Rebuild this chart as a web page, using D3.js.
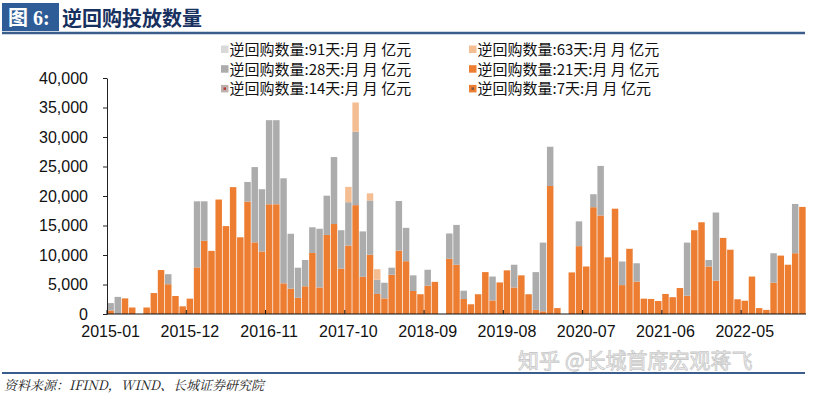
<!DOCTYPE html>
<html>
<head>
<meta charset="utf-8">
<script src="https://cdn.jsdelivr.net/npm/d3@7"></script>
<style>
  body { margin: 0; background: #fff; }
  svg { display: block; font-family: "Liberation Sans", Arial, "Noto Sans CJK SC", sans-serif; }
</style>
</head>
<body>
<div id="chart"></div>
<script>
// monthly reverse repo injections, 亿元, 2015-01 .. 2023-01
const startMonth = '2015-01';
const monthCount = 97;
const xTickLabels = ['2015-01', '2015-12', '2016-11', '2017-10', '2018-09', '2019-08', '2020-07', '2021-06', '2022-05'];

const repo7 = [
  600, 0, 2650, 1100, 0, 1100, 3550, 7450, 5050, 3050, 1300, 2600,
  7900, 12400, 10700, 19400, 14900, 21500, 13000, 19050, 12150, 10600, 18600, 18600,
  5200, 4300, 2750, 4700, 10350, 4500, 13400, 15250, 7700, 11600, 18450, 6300,
  10050, 3400, 2650, 6650, 10750, 8950, 3900, 3350, 4800, 5450, 0, 9350,
  8350, 2550, 1650, 3350, 7100, 2300, 5350, 7400, 4500, 6550, 3350, 700,
  450, 21700, 1000, 0, 7050, 11500, 8050, 18100, 16700, 9600, 17850, 4900,
  11050, 5500, 2600, 2550, 2200, 3400, 2850, 4400, 3100, 14200, 15550, 8050,
  5650, 12900, 10900, 2500, 2250, 6350, 1000, 700, 5300, 9900, 8350, 10300,
  18150
];
const repo14 = [
  1250, 2900, 0, 0, 0, 0, 0, 0, 1700, 0, 0, 0,
  11200, 6700, 0, 0, 0, 0, 0, 3330, 12750, 10550, 14250, 14250,
  17800, 9300, 5100, 4450, 4350, 9950, 6650, 11350, 6500, 7350, 12450, 7700,
  9200, 2400, 2650, 1200, 8400, 5650, 2650, 0, 2700, 0, 0, 4300,
  6750, 1400, 0, 0, 0, 4050, 0, 0, 3850, 0, 0, 6400,
  11650, 6650, 0, 0, 0, 4200, 0, 2200, 8400, 0, 0, 4000,
  0, 3100, 0, 0, 0, 0, 0, 0, 9000, 0, 0, 1100,
  11550, 0, 0, 0, 0, 0, 0, 0, 5000, 0, 0, 8350,
  0
];
const repo21 = [];   // nothing visible
const repo28 = [];
const repo63 = [];
repo63[33] = 2600; repo63[34] = 4950; repo63[36] = 1200; repo63[37] = 1800;
const repo91 = [];

const seriesNames = ['逆回购数量:91天:月 月 亿元', '逆回购数量:63天:月 月 亿元',
  '逆回购数量:28天:月 月 亿元', '逆回购数量:21天:月 月 亿元',
  '逆回购数量:14天:月 月 亿元', '逆回购数量:7天:月 月 亿元'];
const seriesColors = { d91: '#d9d9d9', d63: '#f5bd92', d28: '#acacac', d21: '#ed7d31', d14: '#acacac', d7: '#ed7d31' };

const width = 818, height = 397;
const margin = { top: 78, bottom: 83, left: 107, right: 12 };

const fmtMonth = d3.timeFormat('%Y-%m');
const first = d3.timeParse('%Y-%m')(startMonth);
const months = d3.range(monthCount).map(i => fmtMonth(d3.timeMonth.offset(first, i)));

const rows = months.map((m, i) => ({
  month: m,
  d7: repo7[i] || 0, d14: repo14[i] || 0, d21: repo21[i] || 0,
  d28: repo28[i] || 0, d63: repo63[i] || 0, d91: repo91[i] || 0
}));

const svg = d3.select('#chart').append('svg')
  .attr('width', width)
  .attr('height', height);

// title
svg.append('rect').attr('x', 2).attr('y', 3).attr('width', 57).attr('height', 28).attr('fill', '#2e5c96');
svg.append('text').attr('x', 8).attr('y', 25)
  .attr('fill', '#fff').attr('font-size', 20).attr('font-weight', 'bold')
  .attr('font-family', '"Liberation Serif", "Noto Sans CJK SC", serif')
  .text('图 6:');
svg.append('text').attr('x', 62).attr('y', 26)
  .attr('fill', '#17305f').attr('font-size', 20).attr('font-weight', 'bold')
  .attr('font-family', '"Noto Sans CJK SC", sans-serif')
  .text('逆回购投放数量');
svg.append('line').attr('x1', 2).attr('x2', 805).attr('y1', 33).attr('y2', 33)
  .attr('stroke', '#3b5d8c').attr('stroke-width', 2.5);

// scales
const x = d3.scaleBand()
  .domain(months)
  .range([margin.left, width - margin.right])
  .paddingInner(0.1)
  .paddingOuter(0.05);

const y = d3.scaleLinear()
  .domain([0, 40000])
  .range([height - margin.bottom, margin.top]);

// bars, stacked from 7天 at the bottom up to 91天
const stack = d3.stack().keys(['d7', 'd14', 'd21', 'd28', 'd63', 'd91']);
const layers = stack(rows);

svg.append('g').selectAll('g')
  .data(layers)
  .join('g')
  .attr('fill', d => seriesColors[d.key])
  .selectAll('rect')
  .data(d => d.filter(s => s[1] > s[0]))
  .join('rect')
  .attr('x', d => x(d.data.month))
  .attr('width', x.bandwidth())
  .attr('y', d => y(d[1]))
  .attr('height', d => y(d[0]) - y(d[1]));

// y axis
const yAxis = d3.axisLeft(y)
  .tickValues(d3.range(0, 40001, 5000))
  .tickFormat(d3.format(','))
  .tickSize(4)
  .tickSizeOuter(0)
  .tickPadding(15);

const gy = svg.append('g')
  .attr('transform', `translate(${margin.left},0)`)
  .call(yAxis);
gy.selectAll('text').attr('font-size', 16).attr('fill', '#111');
gy.selectAll('line, path').attr('stroke', '#222');

// x axis: labels centred on the month, tick marks on the month's left edge
const step = x.step();
const xAxis = d3.axisBottom(x)
  .tickValues(xTickLabels)
  .tickSize(0)
  .tickSizeOuter(0)
  .tickPadding(12);

const gx = svg.append('g')
  .attr('transform', `translate(0,${height - margin.bottom})`)
  .call(xAxis);
gx.select('.domain').remove();
gx.selectAll('text').attr('font-size', 16).attr('fill', '#111');

svg.append('line')
  .attr('x1', margin.left).attr('x2', width - margin.right)
  .attr('y1', y(0)).attr('y2', y(0))
  .attr('stroke', '#111').attr('stroke-width', 1.2);

svg.append('g').selectAll('line')
  .data(xTickLabels)
  .join('line')
  .attr('x1', d => x(d) - step * x.paddingInner() / 2)
  .attr('x2', d => x(d) - step * x.paddingInner() / 2)
  .attr('y1', y(0)).attr('y2', y(0) - 4)
  .attr('stroke', '#111');

// legend, two columns
const legendOrder = ['d91', 'd63', 'd28', 'd21', 'd14', 'd7'];
const legend = svg.append('g');
legendOrder.forEach((key, i) => {
  const col = i % 2, row = Math.floor(i / 2);
  const lx = col === 0 ? 221 : 469;
  const ly = 49.5 + row * 19.7;
  const g = legend.append('g').attr('transform', `translate(${lx},${ly})`);
  let fill = seriesColors[key];
  if (key === 'd14') fill = '#bdb1ae';
  g.append('rect').attr('x', 0).attr('y', -4).attr('width', 7.5).attr('height', 7.5).attr('fill', fill);
  if (key === 'd14' || key === 'd7') {
    g.append('rect').attr('x', 2.5).attr('y', -1.5).attr('width', 2.5).attr('height', 2.5)
      .attr('fill', key === 'd14' ? '#b23a3a' : '#7a5844');
  }
  g.append('text').attr('x', 8.5).attr('y', 5.5)
    .attr('font-size', 15).attr('fill', '#111')
    .attr('font-family', '"Noto Sans CJK SC", sans-serif')
    .text(seriesNames[i]);
});

// watermark
svg.append('text').attr('x', 518).attr('y', 368)
  .attr('font-size', 21)
  .attr('font-family', '"Noto Sans CJK SC", sans-serif')
  .attr('fill', '#f4f4f4').attr('stroke', '#c9c9c9').attr('stroke-width', 0.8)
  .text('知乎 @长城首席宏观蒋飞');

// bottom rule and source
svg.append('line').attr('x1', 2).attr('x2', 805).attr('y1', 373).attr('y2', 373)
  .attr('stroke', '#3b5d8c').attr('stroke-width', 2);
svg.append('text').attr('x', 4).attr('y', 390)
  .attr('font-size', 13).attr('font-style', 'italic').attr('fill', '#222')
  .attr('font-family', '"Noto Serif CJK SC", "Noto Sans CJK SC", serif')
  .text('资料来源：IFIND，WIND、长城证券研究院');
</script>
</body>
</html>
